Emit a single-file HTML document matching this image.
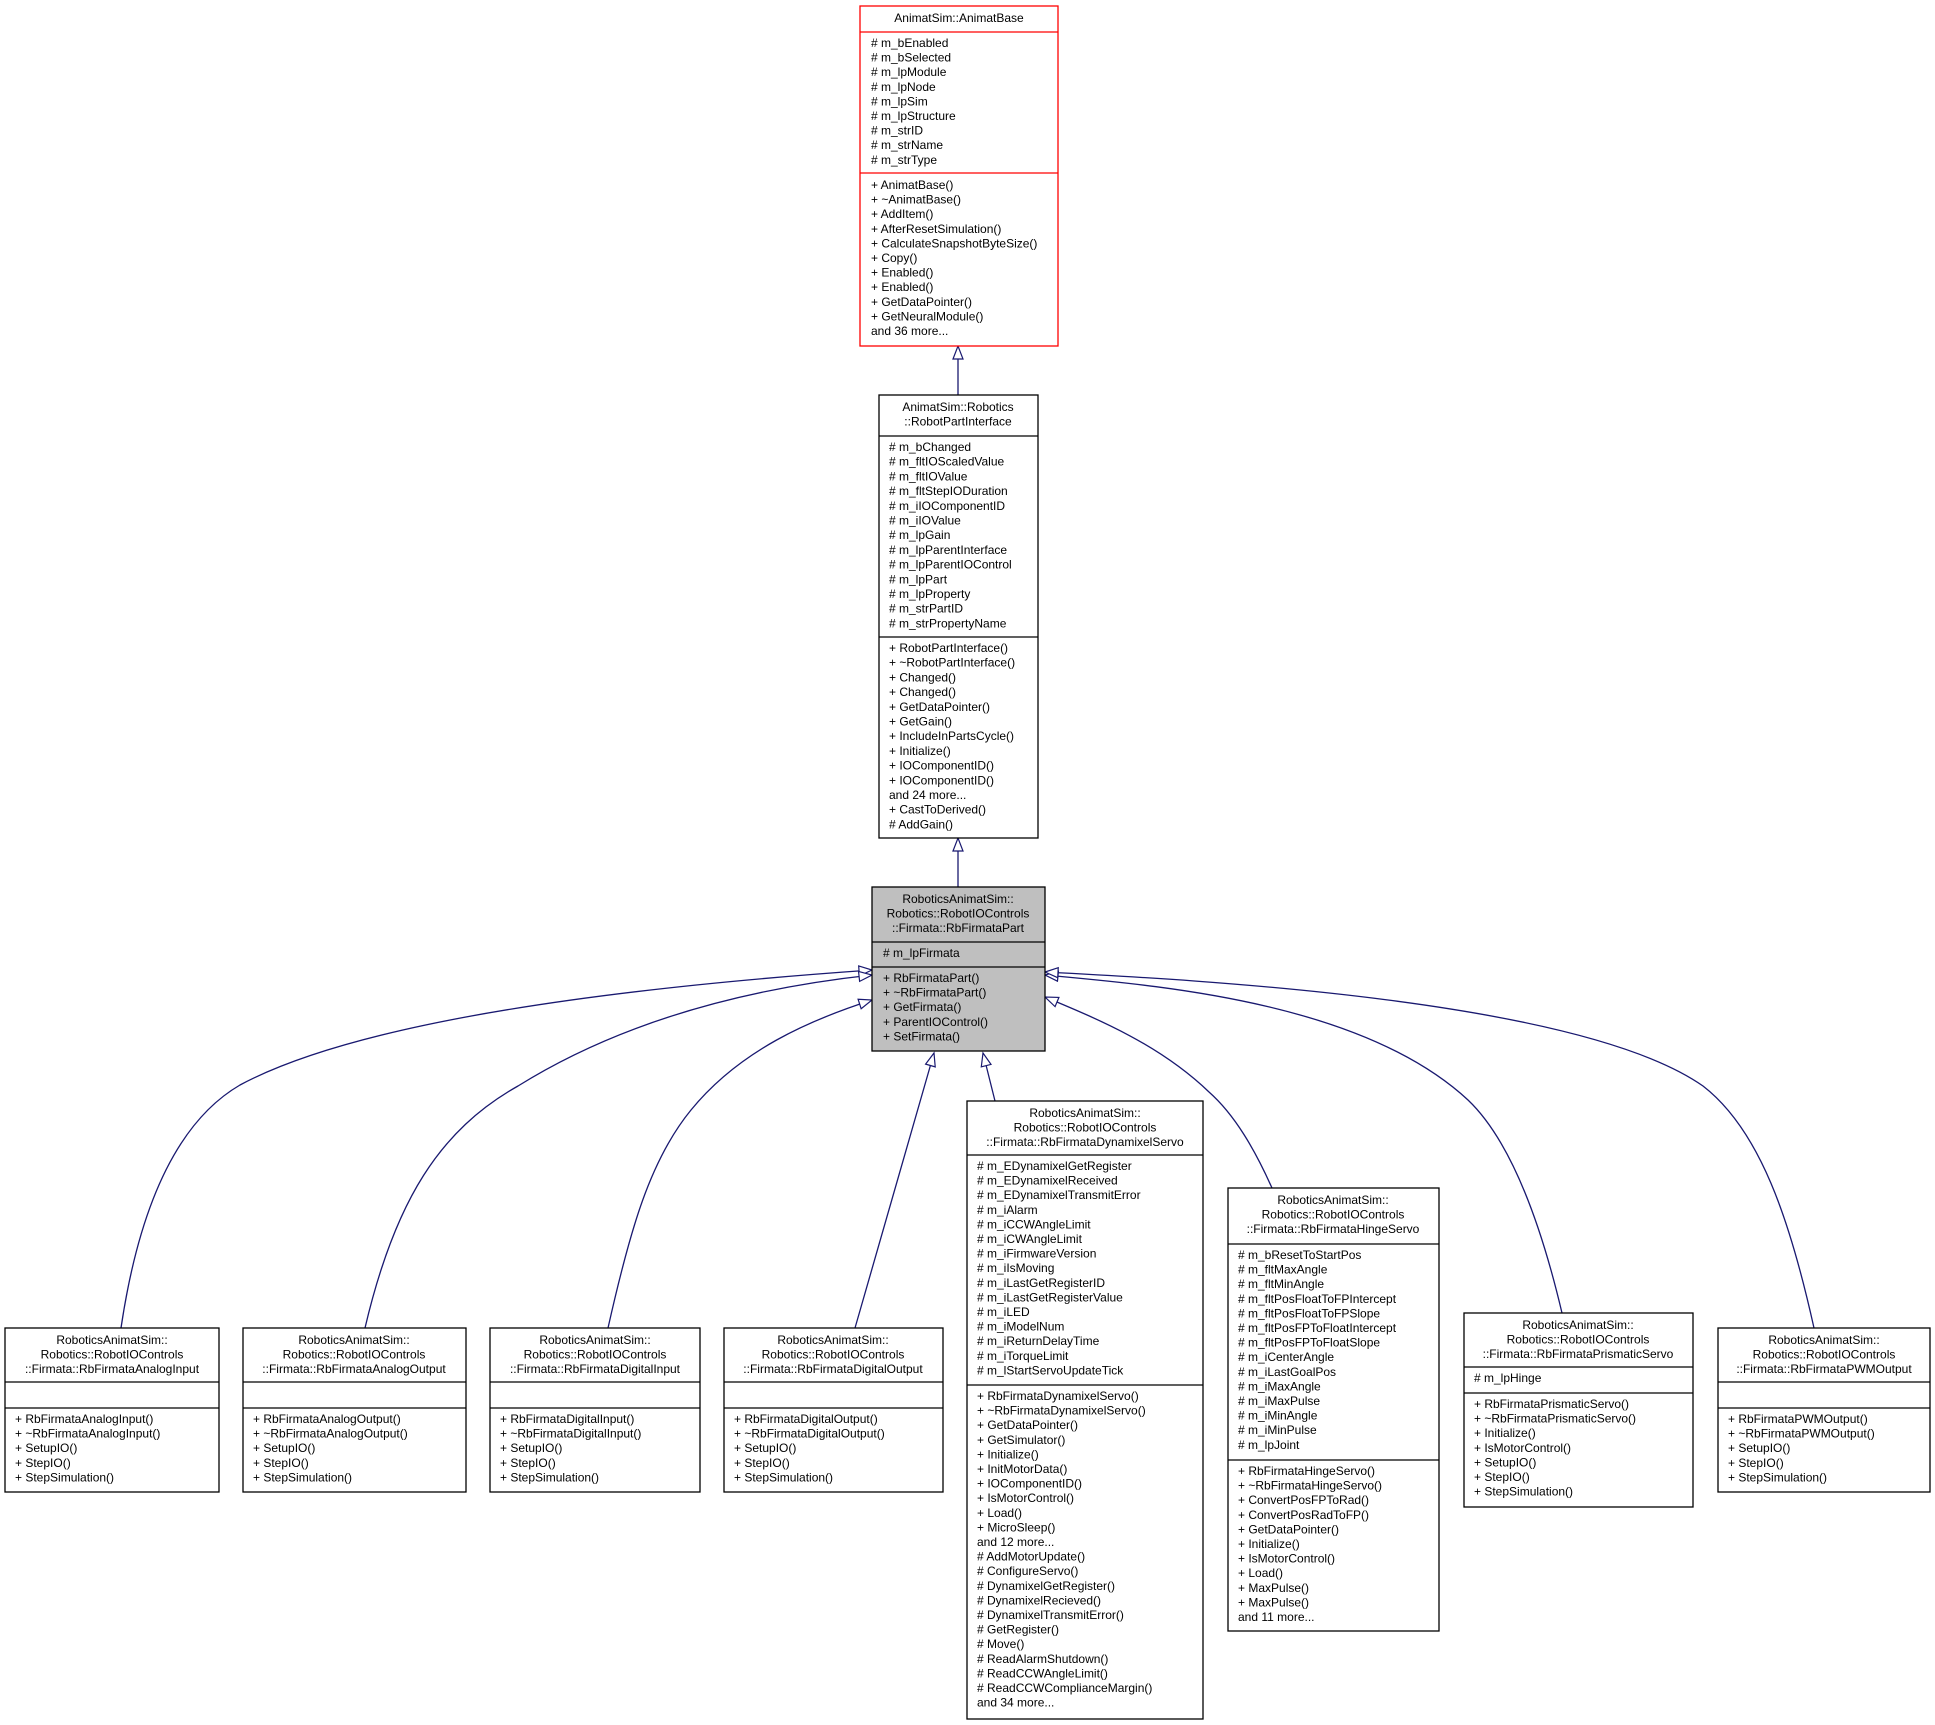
<!DOCTYPE html>
<html><head><meta charset="utf-8"><style>
html,body{margin:0;padding:0;background:#fff}
svg{display:block}
text{font-family:"Liberation Sans",sans-serif;font-size:12px;fill:#000}
</style></head><body>
<svg width="1935" height="1725" viewBox="0 0 1935 1725" xmlns="http://www.w3.org/2000/svg">
<defs>
<marker id="a" markerWidth="16" markerHeight="12" refX="14" refY="6" orient="auto" markerUnits="userSpaceOnUse">
<path d="M1,1 L14,6 L1,11 Z" fill="#fff" stroke="#191970" stroke-width="1.2"/>
</marker>
</defs>
<g fill="none" stroke="#191970" stroke-width="1.3">
<path d="M958,395 L958,346" marker-end="url(#a)"/>
<path d="M958,887 L958,838" marker-end="url(#a)"/>
<path d="M121,1328 C140,1200 180,1120 240,1085 C380,1010 700,982 872,970" marker-end="url(#a)"/>
<path d="M365,1328 C395,1200 440,1130 518,1086 C640,1010 780,985 872,975" marker-end="url(#a)"/>
<path d="M608,1328 C630,1230 650,1160 691,1110 C740,1050 810,1020 872,1000" marker-end="url(#a)"/>
<path d="M855,1328 L934,1053" marker-end="url(#a)"/>
<path d="M995,1101 L983,1053" marker-end="url(#a)"/>
<path d="M1272,1188 C1255,1150 1235,1115 1209,1092 C1160,1045 1100,1020 1045,997" marker-end="url(#a)"/>
<path d="M1562,1313 C1540,1220 1510,1140 1468,1100 C1360,1000 1150,985 1045,975" marker-end="url(#a)"/>
<path d="M1814,1328 C1790,1220 1760,1130 1703,1086 C1580,1000 1200,980 1045,972" marker-end="url(#a)"/>
</g>
<g stroke-width="1.3" fill="#fff" stroke="#000">
<rect x="860" y="6" width="198" height="340" stroke="#ff0000"/>
<line x1="860" y1="32" x2="1058" y2="32" stroke="#ff0000"/>
<line x1="860" y1="173" x2="1058" y2="173" stroke="#ff0000"/>
<rect x="879" y="395" width="159" height="443"/>
<line x1="879" y1="436" x2="1038" y2="436"/><line x1="879" y1="637" x2="1038" y2="637"/>
<rect x="872" y="887" width="173" height="164" fill="#bfbfbf"/>
<line x1="872" y1="942" x2="1045" y2="942"/><line x1="872" y1="967" x2="1045" y2="967"/>
<rect x="5" y="1328" width="214" height="164"/><line x1="5" y1="1382" x2="219" y2="1382"/><line x1="5" y1="1408" x2="219" y2="1408"/>
<rect x="243" y="1328" width="223" height="164"/><line x1="243" y1="1382" x2="466" y2="1382"/><line x1="243" y1="1408" x2="466" y2="1408"/>
<rect x="490" y="1328" width="210" height="164"/><line x1="490" y1="1382" x2="700" y2="1382"/><line x1="490" y1="1408" x2="700" y2="1408"/>
<rect x="724" y="1328" width="219" height="164"/><line x1="724" y1="1382" x2="943" y2="1382"/><line x1="724" y1="1408" x2="943" y2="1408"/>
<rect x="967" y="1101" width="236" height="618"/><line x1="967" y1="1155" x2="1203" y2="1155"/><line x1="967" y1="1385" x2="1203" y2="1385"/>
<rect x="1228" y="1188" width="211" height="443"/><line x1="1228" y1="1244" x2="1439" y2="1244"/><line x1="1228" y1="1460" x2="1439" y2="1460"/>
<rect x="1464" y="1313" width="229" height="194"/><line x1="1464" y1="1367" x2="1693" y2="1367"/><line x1="1464" y1="1393" x2="1693" y2="1393"/>
<rect x="1718" y="1328" width="212" height="164"/><line x1="1718" y1="1382" x2="1930" y2="1382"/><line x1="1718" y1="1408" x2="1930" y2="1408"/>
</g>
<!-- AnimatBase -->
<text x="959" y="22" text-anchor="middle">AnimatSim::AnimatBase</text>
<text y="47"><tspan x="871">#  m_bEnabled</tspan><tspan x="871" dy="14.6">#  m_bSelected</tspan><tspan x="871" dy="14.6">#  m_lpModule</tspan><tspan x="871" dy="14.6">#  m_lpNode</tspan><tspan x="871" dy="14.6">#  m_lpSim</tspan><tspan x="871" dy="14.6">#  m_lpStructure</tspan><tspan x="871" dy="14.6">#  m_strID</tspan><tspan x="871" dy="14.6">#  m_strName</tspan><tspan x="871" dy="14.6">#  m_strType</tspan></text>
<text y="189"><tspan x="871">+  AnimatBase()</tspan><tspan x="871" dy="14.6">+  ~AnimatBase()</tspan><tspan x="871" dy="14.6">+  AddItem()</tspan><tspan x="871" dy="14.6">+  AfterResetSimulation()</tspan><tspan x="871" dy="14.6">+  CalculateSnapshotByteSize()</tspan><tspan x="871" dy="14.6">+  Copy()</tspan><tspan x="871" dy="14.6">+  Enabled()</tspan><tspan x="871" dy="14.6">+  Enabled()</tspan><tspan x="871" dy="14.6">+  GetDataPointer()</tspan><tspan x="871" dy="14.6">+  GetNeuralModule()</tspan><tspan x="871" dy="14.6">and 36 more...</tspan></text>
<!-- RobotPartInterface -->
<text y="411" text-anchor="middle"><tspan x="958">AnimatSim::Robotics</tspan><tspan x="958" dy="14.6">::RobotPartInterface</tspan></text>
<text y="451"><tspan x="889">#  m_bChanged</tspan><tspan x="889" dy="14.7">#  m_fltIOScaledValue</tspan><tspan x="889" dy="14.7">#  m_fltIOValue</tspan><tspan x="889" dy="14.7">#  m_fltStepIODuration</tspan><tspan x="889" dy="14.7">#  m_iIOComponentID</tspan><tspan x="889" dy="14.7">#  m_iIOValue</tspan><tspan x="889" dy="14.7">#  m_lpGain</tspan><tspan x="889" dy="14.7">#  m_lpParentInterface</tspan><tspan x="889" dy="14.7">#  m_lpParentIOControl</tspan><tspan x="889" dy="14.7">#  m_lpPart</tspan><tspan x="889" dy="14.7">#  m_lpProperty</tspan><tspan x="889" dy="14.7">#  m_strPartID</tspan><tspan x="889" dy="14.7">#  m_strPropertyName</tspan></text>
<text y="652"><tspan x="889">+  RobotPartInterface()</tspan><tspan x="889" dy="14.7">+  ~RobotPartInterface()</tspan><tspan x="889" dy="14.7">+  Changed()</tspan><tspan x="889" dy="14.7">+  Changed()</tspan><tspan x="889" dy="14.7">+  GetDataPointer()</tspan><tspan x="889" dy="14.7">+  GetGain()</tspan><tspan x="889" dy="14.7">+  IncludeInPartsCycle()</tspan><tspan x="889" dy="14.7">+  Initialize()</tspan><tspan x="889" dy="14.7">+  IOComponentID()</tspan><tspan x="889" dy="14.7">+  IOComponentID()</tspan><tspan x="889" dy="14.7">and 24 more...</tspan><tspan x="889" dy="14.7">+  CastToDerived()</tspan><tspan x="889" dy="14.7">#  AddGain()</tspan></text>
<!-- RbFirmataPart -->
<text y="903" text-anchor="middle"><tspan x="958">RoboticsAnimatSim::</tspan><tspan x="958" dy="14.6">Robotics::RobotIOControls</tspan><tspan x="958" dy="14.6">::Firmata::RbFirmataPart</tspan></text>
<text y="957"><tspan x="883">#  m_lpFirmata</tspan></text>
<text y="982"><tspan x="883">+  RbFirmataPart()</tspan><tspan x="883" dy="14.6">+  ~RbFirmataPart()</tspan><tspan x="883" dy="14.6">+  GetFirmata()</tspan><tspan x="883" dy="14.6">+  ParentIOControl()</tspan><tspan x="883" dy="14.6">+  SetFirmata()</tspan></text>
<!-- B1 -->
<text y="1344" text-anchor="middle"><tspan x="112">RoboticsAnimatSim::</tspan><tspan x="112" dy="14.6">Robotics::RobotIOControls</tspan><tspan x="112" dy="14.6">::Firmata::RbFirmataAnalogInput</tspan></text>
<text y="1423"><tspan x="15">+  RbFirmataAnalogInput()</tspan><tspan x="15" dy="14.6">+  ~RbFirmataAnalogInput()</tspan><tspan x="15" dy="14.6">+  SetupIO()</tspan><tspan x="15" dy="14.6">+  StepIO()</tspan><tspan x="15" dy="14.6">+  StepSimulation()</tspan></text>
<!-- B2 -->
<text y="1344" text-anchor="middle"><tspan x="354">RoboticsAnimatSim::</tspan><tspan x="354" dy="14.6">Robotics::RobotIOControls</tspan><tspan x="354" dy="14.6">::Firmata::RbFirmataAnalogOutput</tspan></text>
<text y="1423"><tspan x="253">+  RbFirmataAnalogOutput()</tspan><tspan x="253" dy="14.6">+  ~RbFirmataAnalogOutput()</tspan><tspan x="253" dy="14.6">+  SetupIO()</tspan><tspan x="253" dy="14.6">+  StepIO()</tspan><tspan x="253" dy="14.6">+  StepSimulation()</tspan></text>
<!-- B3 -->
<text y="1344" text-anchor="middle"><tspan x="595">RoboticsAnimatSim::</tspan><tspan x="595" dy="14.6">Robotics::RobotIOControls</tspan><tspan x="595" dy="14.6">::Firmata::RbFirmataDigitalInput</tspan></text>
<text y="1423"><tspan x="500">+  RbFirmataDigitalInput()</tspan><tspan x="500" dy="14.6">+  ~RbFirmataDigitalInput()</tspan><tspan x="500" dy="14.6">+  SetupIO()</tspan><tspan x="500" dy="14.6">+  StepIO()</tspan><tspan x="500" dy="14.6">+  StepSimulation()</tspan></text>
<!-- B4 -->
<text y="1344" text-anchor="middle"><tspan x="833">RoboticsAnimatSim::</tspan><tspan x="833" dy="14.6">Robotics::RobotIOControls</tspan><tspan x="833" dy="14.6">::Firmata::RbFirmataDigitalOutput</tspan></text>
<text y="1423"><tspan x="734">+  RbFirmataDigitalOutput()</tspan><tspan x="734" dy="14.6">+  ~RbFirmataDigitalOutput()</tspan><tspan x="734" dy="14.6">+  SetupIO()</tspan><tspan x="734" dy="14.6">+  StepIO()</tspan><tspan x="734" dy="14.6">+  StepSimulation()</tspan></text>
<!-- B5 -->
<text y="1117" text-anchor="middle"><tspan x="1085">RoboticsAnimatSim::</tspan><tspan x="1085" dy="14.6">Robotics::RobotIOControls</tspan><tspan x="1085" dy="14.6">::Firmata::RbFirmataDynamixelServo</tspan></text>
<text y="1170"><tspan x="977">#  m_EDynamixelGetRegister</tspan><tspan x="977" dy="14.6">#  m_EDynamixelReceived</tspan><tspan x="977" dy="14.6">#  m_EDynamixelTransmitError</tspan><tspan x="977" dy="14.6">#  m_iAlarm</tspan><tspan x="977" dy="14.6">#  m_iCCWAngleLimit</tspan><tspan x="977" dy="14.6">#  m_iCWAngleLimit</tspan><tspan x="977" dy="14.6">#  m_iFirmwareVersion</tspan><tspan x="977" dy="14.6">#  m_iIsMoving</tspan><tspan x="977" dy="14.6">#  m_iLastGetRegisterID</tspan><tspan x="977" dy="14.6">#  m_iLastGetRegisterValue</tspan><tspan x="977" dy="14.6">#  m_iLED</tspan><tspan x="977" dy="14.6">#  m_iModelNum</tspan><tspan x="977" dy="14.6">#  m_iReturnDelayTime</tspan><tspan x="977" dy="14.6">#  m_iTorqueLimit</tspan><tspan x="977" dy="14.6">#  m_lStartServoUpdateTick</tspan></text>
<text y="1400"><tspan x="977">+  RbFirmataDynamixelServo()</tspan><tspan x="977" dy="14.6">+  ~RbFirmataDynamixelServo()</tspan><tspan x="977" dy="14.6">+  GetDataPointer()</tspan><tspan x="977" dy="14.6">+  GetSimulator()</tspan><tspan x="977" dy="14.6">+  Initialize()</tspan><tspan x="977" dy="14.6">+  InitMotorData()</tspan><tspan x="977" dy="14.6">+  IOComponentID()</tspan><tspan x="977" dy="14.6">+  IsMotorControl()</tspan><tspan x="977" dy="14.6">+  Load()</tspan><tspan x="977" dy="14.6">+  MicroSleep()</tspan><tspan x="977" dy="14.6">and 12 more...</tspan><tspan x="977" dy="14.6">#  AddMotorUpdate()</tspan><tspan x="977" dy="14.6">#  ConfigureServo()</tspan><tspan x="977" dy="14.6">#  DynamixelGetRegister()</tspan><tspan x="977" dy="14.6">#  DynamixelRecieved()</tspan><tspan x="977" dy="14.6">#  DynamixelTransmitError()</tspan><tspan x="977" dy="14.6">#  GetRegister()</tspan><tspan x="977" dy="14.6">#  Move()</tspan><tspan x="977" dy="14.6">#  ReadAlarmShutdown()</tspan><tspan x="977" dy="14.6">#  ReadCCWAngleLimit()</tspan><tspan x="977" dy="14.6">#  ReadCCWComplianceMargin()</tspan><tspan x="977" dy="14.6">and 34 more...</tspan></text>
<!-- B6 -->
<text y="1204" text-anchor="middle"><tspan x="1333">RoboticsAnimatSim::</tspan><tspan x="1333" dy="14.6">Robotics::RobotIOControls</tspan><tspan x="1333" dy="14.6">::Firmata::RbFirmataHingeServo</tspan></text>
<text y="1259"><tspan x="1238">#  m_bResetToStartPos</tspan><tspan x="1238" dy="14.6">#  m_fltMaxAngle</tspan><tspan x="1238" dy="14.6">#  m_fltMinAngle</tspan><tspan x="1238" dy="14.6">#  m_fltPosFloatToFPIntercept</tspan><tspan x="1238" dy="14.6">#  m_fltPosFloatToFPSlope</tspan><tspan x="1238" dy="14.6">#  m_fltPosFPToFloatIntercept</tspan><tspan x="1238" dy="14.6">#  m_fltPosFPToFloatSlope</tspan><tspan x="1238" dy="14.6">#  m_iCenterAngle</tspan><tspan x="1238" dy="14.6">#  m_iLastGoalPos</tspan><tspan x="1238" dy="14.6">#  m_iMaxAngle</tspan><tspan x="1238" dy="14.6">#  m_iMaxPulse</tspan><tspan x="1238" dy="14.6">#  m_iMinAngle</tspan><tspan x="1238" dy="14.6">#  m_iMinPulse</tspan><tspan x="1238" dy="14.6">#  m_lpJoint</tspan></text>
<text y="1475"><tspan x="1238">+  RbFirmataHingeServo()</tspan><tspan x="1238" dy="14.6">+  ~RbFirmataHingeServo()</tspan><tspan x="1238" dy="14.6">+  ConvertPosFPToRad()</tspan><tspan x="1238" dy="14.6">+  ConvertPosRadToFP()</tspan><tspan x="1238" dy="14.6">+  GetDataPointer()</tspan><tspan x="1238" dy="14.6">+  Initialize()</tspan><tspan x="1238" dy="14.6">+  IsMotorControl()</tspan><tspan x="1238" dy="14.6">+  Load()</tspan><tspan x="1238" dy="14.6">+  MaxPulse()</tspan><tspan x="1238" dy="14.6">+  MaxPulse()</tspan><tspan x="1238" dy="14.6">and 11 more...</tspan></text>
<!-- B7 -->
<text y="1329" text-anchor="middle"><tspan x="1578">RoboticsAnimatSim::</tspan><tspan x="1578" dy="14.6">Robotics::RobotIOControls</tspan><tspan x="1578" dy="14.6">::Firmata::RbFirmataPrismaticServo</tspan></text>
<text y="1382"><tspan x="1474">#  m_lpHinge</tspan></text>
<text y="1408"><tspan x="1474">+  RbFirmataPrismaticServo()</tspan><tspan x="1474" dy="14.6">+  ~RbFirmataPrismaticServo()</tspan><tspan x="1474" dy="14.6">+  Initialize()</tspan><tspan x="1474" dy="14.6">+  IsMotorControl()</tspan><tspan x="1474" dy="14.6">+  SetupIO()</tspan><tspan x="1474" dy="14.6">+  StepIO()</tspan><tspan x="1474" dy="14.6">+  StepSimulation()</tspan></text>
<!-- B8 -->
<text y="1344" text-anchor="middle"><tspan x="1824">RoboticsAnimatSim::</tspan><tspan x="1824" dy="14.6">Robotics::RobotIOControls</tspan><tspan x="1824" dy="14.6">::Firmata::RbFirmataPWMOutput</tspan></text>
<text y="1423"><tspan x="1728">+  RbFirmataPWMOutput()</tspan><tspan x="1728" dy="14.6">+  ~RbFirmataPWMOutput()</tspan><tspan x="1728" dy="14.6">+  SetupIO()</tspan><tspan x="1728" dy="14.6">+  StepIO()</tspan><tspan x="1728" dy="14.6">+  StepSimulation()</tspan></text>
</svg>
</body></html>
